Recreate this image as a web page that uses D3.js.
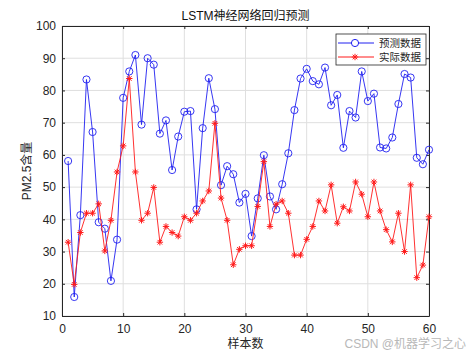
<!DOCTYPE html>
<html><head><meta charset="utf-8">
<script src="https://cdn.jsdelivr.net/npm/d3@7/dist/d3.min.js"></script>
<style>body{margin:0;background:#fff;}svg{display:block;font-family:"Liberation Sans",Arial,sans-serif;}</style>
</head><body>
<script>
const sampleIdx = d3.range(1, 61);
const predicted = [58.1,15.9,41.3,83.4,67.1,39.1,37.1,20.9,33.7,77.7,85.9,91.0,69.4,90.0,88.0,66.6,70.7,55.3,65.7,73.4,
  73.6,43.1,68.3,83.8,74.2,50.6,56.5,54.0,45.2,47.9,34.8,46.5,59.9,47.1,43.1,50.9,60.5,73.9,83.7,86.7,
  82.9,81.9,87.1,75.4,78.6,62.2,73.6,71.6,85.9,76.7,79.0,62.3,62.0,65.4,75.8,85.1,84.0,59.1,57.1,61.6];
const actual = [32.9,19.8,35.9,41.9,41.9,44.8,30.2,39.7,54.7,62.8,83.7,54.7,39.7,41.9,49.9,32.9,37.8,35.9,34.8,40.8,
  39.7,41.9,45.7,48.8,69.8,46.6,39.7,25.9,30.7,31.8,31.8,44.0,57.9,37.8,44.7,45.7,41.9,28.9,28.9,33.8,
  37.8,45.7,42.6,50.7,38.8,43.9,42.6,51.6,47.8,40.8,51.6,42.6,36.8,33.0,41.9,30.0,50.7,21.9,25.8,40.8];
const xTicks = [0,10,20,30,40,50,60];
const yTicks = [10,20,30,40,50,60,70,80,90,100];
const seriesNames = ["预测数据","实际数据"];

const W=474,H=355;
const m={l:62,r:45,t:26,b:39};
const svg=d3.select("body").append("svg").attr("width",W).attr("height",H);
const x=d3.scaleLinear().domain([0,60]).range([m.l,W-m.r]);
const y=d3.scaleLinear().domain([10,100]).range([H-m.b,m.t]);
const axCol="#262626";

// grid
svg.append("g").selectAll("line").data(xTicks).join("line")
  .attr("x1",d=>x(d)).attr("x2",d=>x(d)).attr("y1",y(10)).attr("y2",y(100))
  .attr("stroke","#dfdfdf").attr("stroke-width",1);
svg.append("g").selectAll("line").data(yTicks).join("line")
  .attr("y1",d=>y(d)).attr("y2",d=>y(d)).attr("x1",x(0)).attr("x2",x(60))
  .attr("stroke","#dfdfdf").attr("stroke-width",1);

// axes
const gx=svg.append("g").attr("transform",`translate(0,${y(10)})`)
  .call(d3.axisBottom(x).tickValues(xTicks).tickSizeInner(-3).tickSizeOuter(0).tickPadding(8));
const gy=svg.append("g").attr("transform",`translate(${x(0)},0)`)
  .call(d3.axisLeft(y).tickValues(yTicks).tickSizeInner(-3).tickSizeOuter(0).tickPadding(6));
const gx2=svg.append("g").attr("transform",`translate(0,${y(100)})`)
  .call(d3.axisTop(x).tickValues(xTicks).tickSizeInner(-3).tickSizeOuter(0).tickFormat(""));
const gy2=svg.append("g").attr("transform",`translate(${x(60)},0)`)
  .call(d3.axisRight(y).tickValues(yTicks).tickSizeInner(-3).tickSizeOuter(0).tickFormat(""));
[gx,gy,gx2,gy2].forEach(g=>{
  g.selectAll("path").attr("stroke",axCol).attr("stroke-width",1);
  g.selectAll("line").attr("stroke",axCol);
  g.selectAll("text").attr("fill",axCol).style("font-size","12px").style("font-family","'Liberation Sans',Arial,sans-serif");
});

// lines
const line=d3.line().x((d,i)=>x(sampleIdx[i])).y(d=>y(d));
const blue="#2020f0", red="#ff1a1a";
svg.append("path").datum(predicted).attr("d",line).attr("fill","none").attr("stroke",blue).attr("stroke-width",0.9);
svg.append("g").selectAll("circle").data(predicted).join("circle")
  .attr("cx",(d,i)=>x(sampleIdx[i])).attr("cy",d=>y(d)).attr("r",3.6)
  .attr("fill","none").attr("stroke",blue).attr("stroke-width",0.9);

function star(g,cx,cy,s,col){
  const p=g.append("g").attr("stroke",col).attr("stroke-width",1);
  p.append("line").attr("x1",cx-s).attr("x2",cx+s).attr("y1",cy).attr("y2",cy);
  p.append("line").attr("x1",cx).attr("x2",cx).attr("y1",cy-s).attr("y2",cy+s);
  const k=s*0.72;
  p.append("line").attr("x1",cx-k).attr("x2",cx+k).attr("y1",cy-k).attr("y2",cy+k);
  p.append("line").attr("x1",cx-k).attr("x2",cx+k).attr("y1",cy+k).attr("y2",cy-k);
}
svg.append("path").datum(actual).attr("d",line).attr("fill","none").attr("stroke",red).attr("stroke-width",0.9);
const sg=svg.append("g");
actual.forEach((d,i)=>star(sg,x(sampleIdx[i]),y(d),3.2,red));

// legend
const lg=svg.append("g").attr("transform","translate(336,34)");
lg.append("rect").attr("width",90).attr("height",31).attr("fill","#fff").attr("stroke",axCol).attr("stroke-width",0.8);
lg.append("line").attr("x1",2).attr("x2",38).attr("y1",9).attr("y2",9).attr("stroke",blue);
lg.append("circle").attr("cx",19).attr("cy",9).attr("r",3.6).attr("fill","#fff").attr("stroke",blue);
lg.append("line").attr("x1",2).attr("x2",38).attr("y1",23).attr("y2",23).attr("stroke",red);
star(lg,19,23,3.2,red);
lg.selectAll("text.lt").data(seriesNames).join("text").attr("class","lt")
  .attr("x",43).attr("y",(d,i)=>9+i*14).attr("dy","0.35em")
  .attr("fill",axCol).style("font-size","10.5px").style("font-family","'Noto Sans CJK SC',sans-serif").text(d=>d);

// titles
svg.append("text").attr("x",(x(0)+x(60))/2).attr("y",20).attr("text-anchor","middle")
  .attr("fill","#111").style("font-size","12px").style("font-family","'Liberation Sans','Noto Sans CJK SC',sans-serif")
  .text("LSTM神经网络回归预测");
svg.append("text").attr("x",(x(0)+x(60))/2).attr("y",348).attr("text-anchor","middle")
  .attr("fill",axCol).style("font-size","12px").style("font-family","'Noto Sans CJK SC',sans-serif").text("样本数");
svg.append("text").attr("transform",`translate(31,${(y(10)+y(100))/2}) rotate(-90)`).attr("text-anchor","middle")
  .attr("fill",axCol).style("font-size","12px").style("font-family","'Liberation Sans','Noto Sans CJK SC',sans-serif").text("PM2.5含量");
svg.append("text").attr("x",466).attr("y",348).attr("text-anchor","end")
  .attr("fill","#b8b8b8").style("font-size","12px").style("font-family","'Liberation Sans','Noto Sans CJK SC',sans-serif").text("CSDN @机器学习之心");
</script>
</body></html>
